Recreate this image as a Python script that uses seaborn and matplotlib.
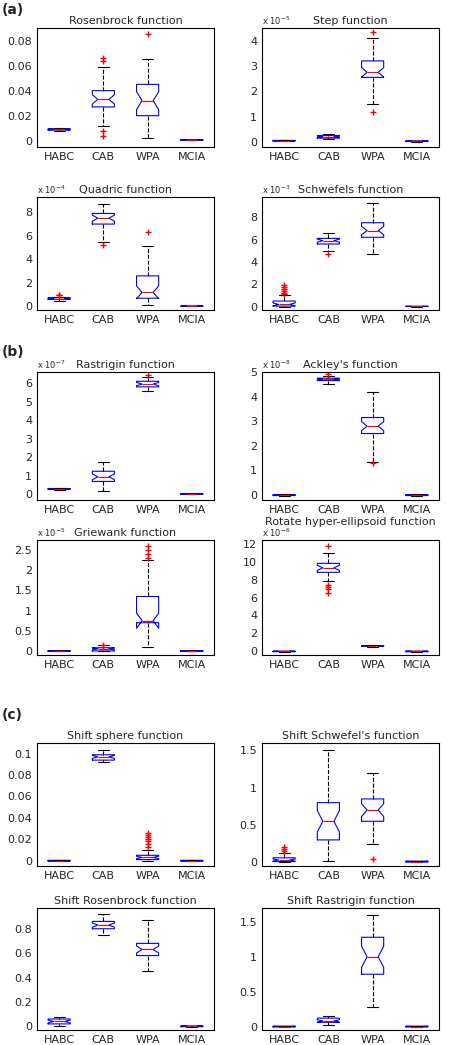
import matplotlib
matplotlib.use("Agg")
import matplotlib.pyplot as plt
import seaborn as sns

sns.set_style("white")
plt.rcParams['font.family'] = ['DejaVu Sans']

algorithms = ["HABC", "CAB", "WPA", "MCIA"]
titles = ["Rosenbrock function", "Step function", "Quadric function", "Schwefels function",
          "Rastrigin function", "Ackley's function", "Griewank function", "Rotate hyper-ellipsoid function",
          "Shift sphere function", "Shift Schwefel's function", "Shift Rosenbrock function", "Shift Rastrigin function"]
exponents = [0, -5, -4, -3, -7, -8, -5, -6, 0, 0, 0, 0]
# per box: (median, q1, q3, whisker low, whisker high, outliers) in displayed units
rosenbrock = [(.009,.0085,.0095,.008,.010,[]), (.033,.027,.040,.012,.059,[.066,.064,.004,.008]),
              (.032,.020,.045,.002,.065,[.085]), (.0005,.0004,.0006,.0003,.0007,[])]
step = [(.05,.04,.06,.03,.07,[]), (.2,.15,.25,.1,.3,[]), (2.75,2.55,3.2,1.5,4.1,[4.35,1.2]), (.03,.02,.04,.01,.05,[])]
quadric = [(.65,.6,.75,.5,.8,[.95,1.0]), (7.5,7.0,7.9,5.5,8.7,[5.2]), (1.2,.7,2.6,.1,5.1,[6.3]), (.02,.01,.03,0,.04,[])]
schwefels = [(.2,.05,.5,0,1.0,[1.1,1.2,1.4,1.6,1.8,1.9]), (5.9,5.6,6.1,5.0,6.6,[4.7]),
             (6.8,6.2,7.5,4.7,9.3,[]), (.02,.01,.03,0,.04,[])]
rastrigin = [(.3,.28,.32,.26,.34,[]), (.95,.7,1.25,.2,1.75,[]), (5.95,5.8,6.1,5.55,6.35,[6.45]), (.02,.01,.03,0,.04,[])]
ackley = [(0,-.02,.02,-.03,.03,[]), (4.7,4.65,4.75,4.5,4.85,[4.9]), (2.8,2.5,3.15,1.35,4.2,[1.3]), (0,-.02,.02,-.03,.03,[])]
griewank = [(0,-.01,.01,-.01,.01,[]), (.05,0,.08,0,.15,[.15]), (.75,.7,1.35,.1,2.25,[2.3,2.4,2.5,2.6]), (0,-.01,.01,-.01,.01,[])]
ellipsoid = [(0,-.03,.03,-.05,.05,[]), (9.3,8.8,9.8,7.8,11.0,[11.7,7.4,7.2,7.0,6.5]), (.6,.55,.65,.5,.7,[]), (0,-.03,.03,-.05,.05,[])]
shift_sphere = [(0,-.0003,.0003,-.0005,.0005,[]), (.097,.094,.099,.092,.103,[]),
                (.003,.001,.005,0,.01,[.013,.016,.018,.02,.022,.024,.026]), (0,-.0003,.0003,-.0005,.0005,[])]
shift_schwefel = [(.03,.01,.06,0,.12,[.15,.18,.2]), (.55,.3,.8,.02,1.5,[]), (.7,.55,.85,.25,1.2,[.05]), (.01,.005,.015,0,.02,[])]
shift_rosenbrock = [(.04,.02,.06,0,.08,[]), (.83,.8,.86,.75,.92,[]), (.63,.58,.68,.45,.87,[]), (0,-.003,.003,-.005,.005,[])]
shift_rastrigin = [(0,-.005,.005,-.01,.01,[]), (.08,.06,.12,.02,.15,[]), (1.0,.75,1.28,.28,1.6,[]), (0,-.005,.005,-.01,.01,[])]
datasets = [rosenbrock, step, quadric, schwefels, rastrigin, ackley, griewank, ellipsoid,
            shift_sphere, shift_schwefel, shift_rosenbrock, shift_rastrigin]
ylims = [(-.005,.09),(-.2,4.5),(-.3,9.3),(-.3,9.8),(-.3,6.6),(-.2,5.0),(-.1,2.75),(-.4,12.4),
         (-.005,.11),(-.05,1.6),(-.03,.97),(-.05,1.7)]
yticks = [[0,.02,.04,.06,.08],[0,1,2,3,4],[0,2,4,6,8],[0,2,4,6,8],[0,1,2,3,4,5,6],[0,1,2,3,4,5],
          [0,.5,1,1.5,2,2.5],[0,2,4,6,8,10,12],[0,.02,.04,.06,.08,.1],[0,.5,1,1.5],[0,.2,.4,.6,.8],[0,.5,1,1.5]]

fig = plt.figure(figsize=(4.74, 10.45), dpi=100)
W, H = 474, 1045
lefts = [37, 262]
rows = [(28, 147), (197, 310), (372, 500), (540, 655), (743, 866), (908, 1030)]
aw = 177
for i, (title, data) in enumerate(zip(titles, datasets)):
    r, c = divmod(i, 2)
    top, bot = rows[r]
    ax = fig.add_axes([lefts[c]/W, 1-bot/H, aw/W, (bot-top)/H])
    stats = []
    for lab, (med, q1, q3, lo, hi, fl) in zip(algorithms, data):
        ci = 0.287*(q3-q1)
        stats.append(dict(med=med, q1=q1, q3=q3, whislo=lo, whishi=hi, fliers=fl,
                          cilo=med-ci, cihi=med+ci, label=lab))
    ax.bxp(stats, shownotches=True, widths=0.5,
           boxprops=dict(color='blue', lw=0.8), medianprops=dict(color='red', lw=0.8),
           whiskerprops=dict(color='black', lw=0.8, ls='--'), capprops=dict(color='black', lw=0.8),
           flierprops=dict(marker='+', markeredgecolor='red', markersize=5))
    ax.set_ylim(*ylims[i])
    ax.set_yticks(yticks[i])
    ax.set_yticklabels([f"{t:g}" for t in yticks[i]])
    pad = 11 if i == 7 else 3
    ax.set_title(title, fontsize=8, pad=pad)
    ax.tick_params(labelsize=8, length=2, direction='in')
    for s in ax.spines.values():
        s.set_color('black'); s.set_linewidth(0.8)
    if exponents[i]:
        ax.text(0, 1.01, f"x 10$^{{{exponents[i]}}}$", transform=ax.transAxes, fontsize=6, va='bottom')

for lab, y in [("(a)", 10), ("(b)", 352), ("(c)", 715)]:
    fig.text(2/W, 1-y/H, lab, fontsize=10, fontweight='bold', va='center')

fig.savefig("out.png", dpi=100)
